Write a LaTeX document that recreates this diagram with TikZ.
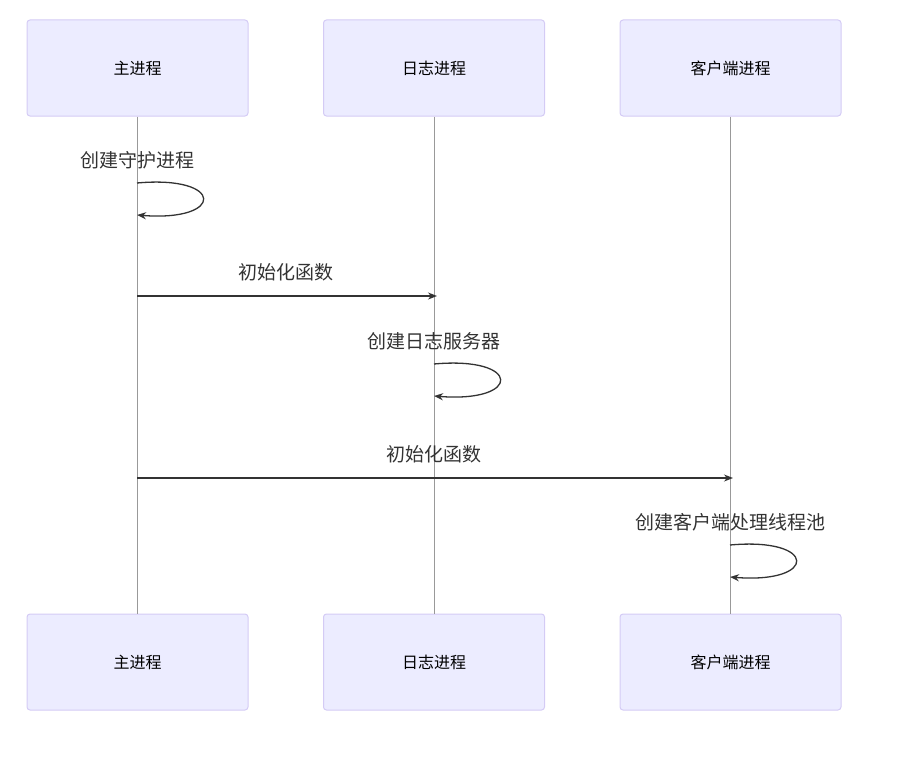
\documentclass[tikz,border=0pt]{standalone}
\usepackage{fontspec}
\newfontfamily\cjk{Noto Sans CJK SC}
\usetikzlibrary{arrows.meta}
\definecolor{boxfill}{HTML}{ECECFF}
\definecolor{boxline}{HTML}{D4CBF5}
\definecolor{ink}{HTML}{333333}
\begin{document}
\begin{tikzpicture}[x=1pt,y=-1pt,
  actor/.style={draw=boxline,fill=boxfill,rounded corners=3pt,minimum width=221pt,minimum height=96pt,font=\cjk\fontsize{16}{18}\selectfont,text=black,line width=1pt},
  life/.style={draw=gray!80,line width=1pt},
  msg/.style={draw=ink,line width=1.3pt,-{Stealth[length=9pt,width=7pt]}},
  lbl/.style={font=\cjk\fontsize{19}{22}\selectfont,text=ink}]
\useasboundingbox (0,0) rectangle (899,760);
\node[actor] (a1) at (137.5,68) {主进程};
\node[actor] (a2) at (434,68) {日志进程};
\node[actor] (a3) at (730.5,68) {客户端进程};
\node[actor] (b1) at (137.5,662) {主进程};
\node[actor] (b2) at (434,662) {日志进程};
\node[actor] (b3) at (730.5,662) {客户端进程};
\draw[life] (a1.south) -- (b1.north);
\draw[life] (a2.south) -- (b2.north);
\draw[life] (a3.south) -- (b3.north);
% loop 1
\coordinate (l1s) at (137,183); \coordinate (l1e) at (137,215);
\node[lbl] (t1) at (137,160) {创建守护进程};
\draw[msg] (l1s) .. controls (225,175) and (225,222) .. (l1e);
% msg 1
\coordinate (m1s) at (137,296); \coordinate (m1e) at (437,296);
\draw[msg] (m1s) -- (m1e);
\node[lbl] (t2) at (286,272) {初始化函数};
% loop 2
\coordinate (l2s) at (434,364); \coordinate (l2e) at (434,396);
\node[lbl] (t3) at (434,341) {创建日志服务器};
\draw[msg] (l2s) .. controls (522,356) and (522,403) .. (l2e);
% msg 2
\coordinate (m2s) at (137,478); \coordinate (m2e) at (733,478);
\draw[msg] (m2s) -- (m2e);
\node[lbl] (t4) at (434,454) {初始化函数};
% loop 3
\coordinate (l3s) at (730,545); \coordinate (l3e) at (730,577);
\node[lbl] (t5) at (730,522) {创建客户端处理线程池};
\draw[msg] (l3s) .. controls (818,537) and (818,584) .. (l3e);
\end{tikzpicture}
\end{document}
